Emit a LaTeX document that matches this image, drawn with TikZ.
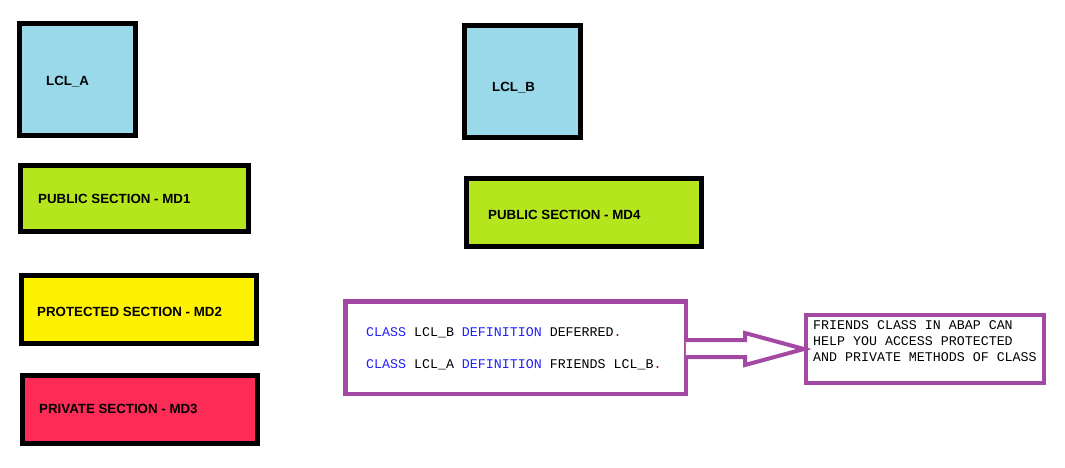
\documentclass[tikz,border=0pt]{standalone}
\usepackage{fontspec}
\usetikzlibrary{calc}
\setmainfont{Liberation Sans}
\newfontfamily\codefont{Liberation Mono}
\definecolor{lblue}{HTML}{99D9EA}
\definecolor{lgreen}{HTML}{B5E61D}
\definecolor{lyellow}{HTML}{FFF200}
\definecolor{lred}{HTML}{FC2C57}
\definecolor{lpurple}{HTML}{A349A4}
\definecolor{kwblue}{HTML}{2020FF}
\definecolor{dotpurple}{HTML}{800080}
\tikzset{
  blackbox/.style={draw=black, line width=5pt, inner sep=0pt, outer sep=0pt},
  purplebox/.style={draw=lpurple, line width=4.5pt, fill=white, inner sep=0pt, outer sep=0pt},
  lbl/.style={anchor=west, inner sep=0pt, font=\bfseries\fontsize{13.3}{15}\selectfont},
  code/.style={anchor=west, inner sep=0pt, font=\codefont\fontsize{13.3}{16}\selectfont},
}
\newcommand{\kw}[1]{\textcolor{kwblue}{#1}}
\begin{document}
\begin{tikzpicture}[x=1pt,y=-1pt]
\useasboundingbox (0,0) rectangle (1065,467);
% class boxes
\node[blackbox, fill=lblue, minimum width=116pt, minimum height=112pt] (lcla) at (77.5,79.5) {};
\node[blackbox, fill=lgreen, minimum width=228pt, minimum height=66pt] (md1) at (134.5,198.5) {};
\node[blackbox, fill=lyellow, minimum width=235pt, minimum height=68pt] (md2) at (139,309.5) {};
\node[blackbox, fill=lred, minimum width=235pt, minimum height=68pt] (md3) at (140,409.5) {};
\node[blackbox, fill=lblue, minimum width=116pt, minimum height=112pt] (lclb) at (522.5,81.5) {};
\node[blackbox, fill=lgreen, minimum width=235pt, minimum height=68pt] (md4) at (584,212.5) {};
% labels
\node[lbl] (tlcla) at (46,82) {LCL\_A};
\node[lbl] (tmd1) at (38,199) {PUBLIC SECTION - MD1};
\node[lbl] (tmd2) at (37,312) {PROTECTED SECTION - MD2};
\node[lbl] (tmd3) at (39,409) {PRIVATE SECTION - MD3};
\node[lbl] (tlclb) at (492,88) {LCL\_B};
\node[lbl] (tmd4) at (488,215) {PUBLIC SECTION - MD4};
% code box
\node[purplebox, minimum width=340.5pt, minimum height=92.5pt] (codebox) at (515.5,347.5) {};
\node[code] (c1) at (366,333) {\kw{CLASS} LCL\_B \kw{DEFINITION} DEFERRED\textcolor{dotpurple}{.}};
\node[code] (c2) at (366,365) {\kw{CLASS} LCL\_A \kw{DEFINITION} FRIENDS LCL\_B\textcolor{dotpurple}{.}};
% note box
\node[purplebox, minimum width=238pt, minimum height=68pt] (note) at (925,349) {};
\node[code, anchor=north west, align=left, font=\codefont\fontsize{13.3}{16}\selectfont] (ntext) at (813,320) {FRIENDS CLASS IN ABAP CAN\\HELP YOU ACCESS PROTECTED\\AND PRIVATE METHODS OF CLASS};
% block arrow
\coordinate (astart) at ($(codebox.east)+(0,1)$);
\coordinate (aend) at ($(note.west)+(-2,0)$);
\draw[draw=lpurple, line width=4pt, fill=white, line join=miter]
  ($(astart)+(0,-8.5)$) -- (745,340) -- (745,333) -- (aend) -- (745,365) -- (745,357) -- ($(astart)+(0,8.5)$);
\end{tikzpicture}
\end{document}
